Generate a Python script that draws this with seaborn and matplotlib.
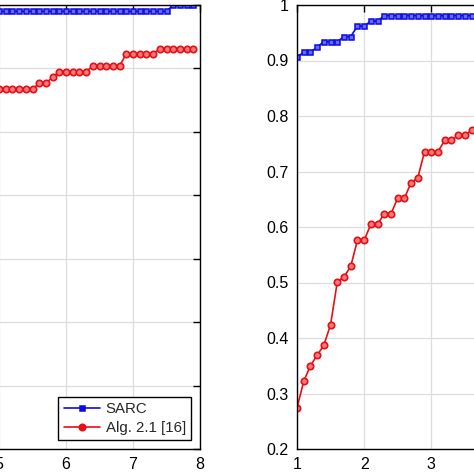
import matplotlib
matplotlib.use("Agg")
import matplotlib.pyplot as plt
import seaborn as sns

# ---- data read off the reference (sampled every 0.1) ----
# left panel (only x >= ~5 is visible)
x_left = [4.8, 4.9, 5.0, 5.1, 5.2, 5.3, 5.4, 5.5, 5.6, 5.7, 5.8, 5.9, 6.0, 6.1, 6.2, 6.3,
          6.4, 6.5, 6.6, 6.7, 6.8, 6.9, 7.0, 7.1, 7.2, 7.3, 7.4, 7.5, 7.6, 7.7, 7.8, 7.9]
sarc_left = [0.99, 0.99, 0.99, 0.99, 0.99, 0.99, 0.99, 0.99, 0.99, 0.99, 0.99, 0.99, 0.99, 0.99,
             0.99, 0.99, 0.99, 0.99, 0.99, 0.99, 0.99, 0.99, 0.99, 0.99, 0.99, 0.99, 0.99, 0.99,
             1.0, 1.0, 1.0, 1.0]
alg_left = [0.867, 0.867, 0.867, 0.867, 0.867, 0.867, 0.867, 0.867, 0.877, 0.877, 0.886,
            0.895, 0.895, 0.895, 0.895, 0.895, 0.904, 0.904, 0.904, 0.904, 0.904,
            0.923, 0.923, 0.923, 0.923, 0.923, 0.931, 0.931, 0.931, 0.931, 0.931, 0.931]

# right panel (only x <= ~3.6 is visible)
x_right = [1.0, 1.1, 1.2, 1.3, 1.4, 1.5, 1.6, 1.7, 1.8, 1.9, 2.0, 2.1, 2.2, 2.3, 2.4, 2.5,
           2.6, 2.7, 2.8, 2.9, 3.0, 3.1, 3.2, 3.3, 3.4, 3.5, 3.6, 3.7, 3.8]
sarc_right = [0.906, 0.915, 0.915, 0.924, 0.934, 0.934, 0.934, 0.943, 0.943, 0.962, 0.962,
              0.971, 0.971, 0.981, 0.981, 0.981, 0.981, 0.981, 0.981, 0.981, 0.981, 0.981,
              0.981, 0.981, 0.981, 0.981, 0.981, 0.981, 0.981]
alg_right = [0.274, 0.322, 0.350, 0.369, 0.387, 0.424, 0.501, 0.510, 0.529, 0.576, 0.576,
             0.605, 0.605, 0.624, 0.624, 0.652, 0.652, 0.680, 0.689, 0.736, 0.736, 0.736,
             0.756, 0.756, 0.765, 0.765, 0.774, 0.779, 0.783]

left_yticks = [0.3, 0.4, 0.5, 0.6, 0.7, 0.8, 0.9, 1.0]
right_yticks = [0.2, 0.3, 0.4, 0.5, 0.6, 0.7, 0.8, 0.9, 1.0]
right_ylabels = ["0.2", "0.3", "0.4", "0.5", "0.6", "0.7", "0.8", "0.9", "1"]
xticks = [1, 2, 3, 4, 5, 6, 7, 8]

BLUE = "#0a0ae6"
RED = "#e60f14"

sns.set_style("white")
plt.rcParams["font.family"] = ["Liberation Sans", "DejaVu Sans"]

W = 474
fig = plt.figure(figsize=(4.74, 4.74), dpi=100)
# panels are cropped like in the reference
ax_l = fig.add_axes([-269 / W, 25 / W, 469 / W, 444 / W])
ax_r = fig.add_axes([297 / W, 25 / W, 470 / W, 444 / W])


def style(ax):
    ax.grid(True, color="#dddddd", linewidth=0.9)
    ax.set_axisbelow(True)
    for s in ax.spines.values():
        s.set_color("black")
        s.set_linewidth(1.0)
        s.set_visible(True)
    ax.tick_params(direction="in", length=5, width=1, top=True, right=True,
                   labelsize=11.5, colors="black", pad=6)
    ax.set_xlabel("")
    ax.set_ylabel("")


for ax, xs, s_vals, a_vals in [(ax_l, x_left, sarc_left, alg_left),
                               (ax_r, x_right, sarc_right, alg_right)]:
    sns.lineplot(x=xs, y=s_vals, ax=ax, color=BLUE, marker="s", markersize=3.6,
                 markeredgecolor=BLUE, markerfacecolor="#6a6aff", markeredgewidth=1.1,
                 linewidth=1.2, label="SARC")
    sns.lineplot(x=xs, y=a_vals, ax=ax, color=RED, marker="o", markersize=4.6,
                 markeredgecolor=RED, markerfacecolor="#f47a7d", markeredgewidth=1.2,
                 linewidth=1.2, label="Alg. 2.1 [16]")
    ax.set_xlim(1, 8)
    ax.set_xticks(xticks)
    style(ax)

ax_l.set_ylim(0.3, 1.0)
ax_l.set_yticks(left_yticks)
ax_r.set_ylim(0.2, 1.0)
ax_r.set_yticks(right_yticks)
ax_r.set_yticklabels(right_ylabels)

ax_r.get_legend().remove()
ax_l.get_legend().remove()
leg = ax_l.legend(loc="lower right", fontsize=10.8, frameon=True, fancybox=False,
                  edgecolor="black", framealpha=1, handlelength=2.4,
                  borderaxespad=0.6, borderpad=0.35, labelspacing=0.3, handletextpad=0.4)
leg.get_frame().set_linewidth(1.0)
for h in leg.get_lines():
    h.set_markerfacecolor(h.get_color())

fig.savefig("out.png", dpi=100, facecolor="white")
